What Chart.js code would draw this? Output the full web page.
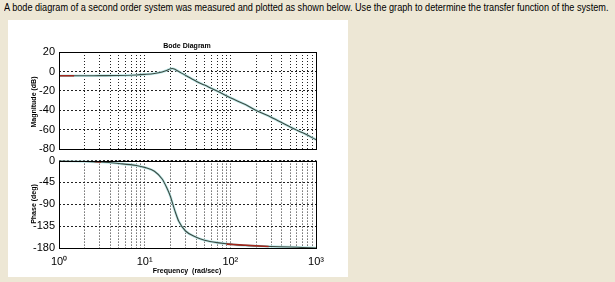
<!DOCTYPE html>
<html>
<head>
<meta charset="utf-8">
<script src="https://cdn.jsdelivr.net/npm/chart.js@4/dist/chart.umd.min.js"></script>
<style>
  body { margin: 0; background: #ede7d5; width: 615px; height: 282px; overflow: hidden; font-family: "Liberation Sans", Arial, sans-serif; }
  .question { position: absolute; left: 4px; top: 2px; font-size: 10px; white-space: nowrap; color: #000; transform-origin: 0 0; }
  .panel { position: absolute; left: 8px; top: 20px; width: 340px; height: 257px; background: #fff; }
  canvas { position: absolute; }
  .lbl { position: absolute; font-size: 7px; font-weight: bold; color: #000; white-space: nowrap; }
  .rot { transform: translate(-50%, -50%) rotate(-90deg); }
  .ctr { transform: translate(-50%, -50%); }
</style>
</head>
<body>
<div class="question" id="question">A bode diagram of a second order system was measured and plotted as shown below. Use the graph to determine the transfer function of the system.</div>
<div class="panel"></div>
<canvas id="magChart" style="left:8px; top:20px; width:340px; height:140px;" width="340" height="140"></canvas>
<canvas id="phaseChart" style="left:8px; top:150px; width:340px; height:126px;" width="340" height="126"></canvas>
<div class="lbl ctr" style="left:187px; top:45px;">Bode Diagram</div>
<div class="lbl rot" style="left:33px; top:102px;">Magnitude (dB)</div>
<div class="lbl rot" style="left:33px; top:204px;">Phase (deg)</div>
<div class="lbl ctr" style="left:187px; top:270px;">Frequency&nbsp; (rad/sec)</div>
<script>
// frequency (rad/s)
const freq = [1, 2, 3, 5, 8, 10, 13, 16, 18, 20, 21, 23, 25, 30, 40, 50, 70, 100, 150, 200, 300, 500, 700, 1000];
// magnitude (dB)
const mag = [-4.4, -4.4, -4.3, -4.2, -3.6, -3, -2, -0.5, 1, 2.9, 3.1, 1.8, 0, -4, -10, -14, -20, -27, -34, -40, -47, -57, -63, -70];
// phase (deg)
const phase = [0, -2, -3, -6, -10, -14, -22, -38, -55, -74, -86, -108, -125, -145, -158, -164, -169, -172, -175, -176, -177, -178, -179, -180];

// short red traces of the measured data
const redMagFreq = [1, 1.5];
const redMag = [-4.4, -4.4];
const redPhaseFreq = [2.6, 3.1];
const redPhase = [-2, -3];
const redPhaseFreq2 = [90, 280];
const redPhase2 = [-172, -177];

const xTicks = [];
[1, 10, 100].forEach(d => { for (let i = 1; i < 10; i++) xTicks.push(d * i); });
xTicks.push(1000);

const supers = { 1: "10\u2070", 10: "10\u00b9", 100: "10\u00b2", 1000: "10\u00b3" };

function pts(xs, ys) {
    return xs.map((x, i) => ({ x: x, y: ys[i] }));
}

const boxPlugin = {
    id: "box",
    afterDraw(chart) {
        const a = chart.chartArea;
        const ctx = chart.ctx;
        ctx.save();
        ctx.strokeStyle = "#000";
        ctx.lineWidth = 1;
        ctx.setLineDash([]);
        ctx.strokeRect(Math.round(a.left) + 0.5, Math.round(a.top) + 0.5, Math.round(a.right - a.left), Math.round(a.bottom - a.top));
        ctx.restore();
    }
};

function makeConfig(xs, ys, reds, yMin, yMax, step, showX, pad) {
    // first dataset is drawn on top
    const datasets = [];
    reds.forEach(r => datasets.push({ data: pts(r[0], r[1]), borderColor: "#a3261b", borderWidth: 1.6, pointRadius: 0 }));
    datasets.push({ data: pts(xs, ys), borderColor: "#3b4a42", borderWidth: 1.1, pointRadius: 0, cubicInterpolationMode: "monotone" });
    datasets.push({ data: pts(xs, ys), borderColor: "#bfeaea", borderWidth: 2.6, pointRadius: 0, cubicInterpolationMode: "monotone" });
    return {
        type: "line",
        data: { datasets: datasets },
        options: {
            responsive: false,
            animation: false,
            layout: { padding: pad },
            plugins: { legend: { display: false }, tooltip: { enabled: false } },
            scales: {
                x: {
                    type: "logarithmic",
                    min: 1,
                    max: 1000,
                    afterBuildTicks: s => { s.ticks = xTicks.map(v => ({ value: v })); },
                    afterFit: s => { s.height = showX ? 28 : 0; },
                    grid: { color: "#222", lineWidth: 1, drawTicks: false },
                    border: { display: false, dash: [1, 2] },
                    ticks: {
                        display: showX,
                        autoSkip: false,
                        maxRotation: 0,
                        padding: 7,
                        color: "#000",
                        font: { family: "Liberation Sans", size: 11 },
                        callback: v => supers[v] || ""
                    }
                },
                y: {
                    min: yMin,
                    max: yMax,
                    afterBuildTicks: s => {
                        const t = [];
                        for (let v = yMin; v <= yMax; v += step) t.push({ value: v });
                        s.ticks = t;
                    },
                    afterFit: s => { s.width = 51; },
                    grid: { color: "#222", lineWidth: 1, drawTicks: false },
                    border: { display: false, dash: [2, 2] },
                    ticks: { padding: 4, color: "#000", font: { family: "Liberation Sans", size: 11 } }
                }
            }
        },
        plugins: [boxPlugin]
    };
}

new Chart(document.getElementById("magChart"),
    makeConfig(freq, mag, [[redMagFreq, redMag]], -80, 20, 20, false, { top: 32, right: 32, bottom: 8, left: 0 }));

new Chart(document.getElementById("phaseChart"),
    makeConfig(freq, phase, [[redPhaseFreq, redPhase], [redPhaseFreq2, redPhase2]], -180, 0, 45, true, { top: 10, right: 32, bottom: 0, left: 0 }));

// stretch the question line to the width it has in the picture
const q = document.getElementById("question");
q.style.transform = "scaleX(" + (604 / q.offsetWidth) + ")";
</script>
</body>
</html>
